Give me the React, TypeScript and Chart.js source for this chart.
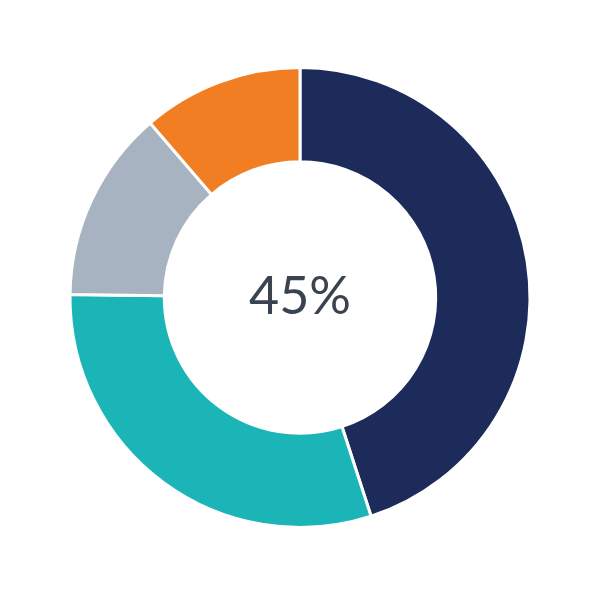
import React, { useEffect, useRef } from "react";
import { Chart, registerables } from "chart.js";

Chart.register(...registerables);

const categories = ["Segment A", "Segment B", "Segment C", "Segment D"];
const values = [45, 30.2, 13.5, 11.3];
const colors = ["#1C2B5A", "#1BB5B8", "#A8B3C1", "#F17E22"];
const centerLabel = "45%";

export default function App() {
  const ref = useRef<HTMLCanvasElement | null>(null);

  useEffect(() => {
    document.body.style.margin = "0";
    const canvas = ref.current;
    if (!canvas) return;
    const chart = new Chart(canvas, {
      type: "doughnut",
      data: {
        labels: categories,
        datasets: [
          {
            data: values,
            backgroundColor: colors,
            borderColor: "#ffffff",
            borderWidth: 3,
          },
        ],
      },
      options: {
        responsive: false,
        animation: false,
        cutout: "59%",
        layout: { padding: { top: 66, bottom: 70, left: 68, right: 68 } },
        plugins: {
          legend: { display: false },
          tooltip: { enabled: false },
        },
      },
    });
    return () => chart.destroy();
  }, []);

  return (
    <div style={{ position: "relative", width: 600, height: 599, background: "#ffffff" }}>
      <canvas ref={ref} width={600} height={599} style={{ display: "block" }} />
      <div
        style={{
          position: "absolute",
          left: 0,
          top: 263,
          width: 600,
          textAlign: "center",
          fontFamily: "Lato, sans-serif",
          fontSize: 52,
          lineHeight: "62px",
          color: "#3A4350",
        }}
      >
        {centerLabel}
      </div>
    </div>
  );
}
